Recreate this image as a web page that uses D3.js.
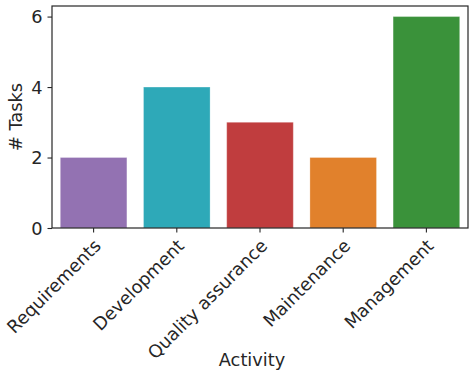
<!DOCTYPE html>
<html>
<head>
<meta charset="utf-8">
<script src="https://cdn.jsdelivr.net/npm/d3@7"></script>
<style>
  html, body { margin: 0; padding: 0; background: #fff; }
  svg { display: block; font-family: "DejaVu Sans", sans-serif; }
</style>
</head>
<body>
<svg id="chart" width="474" height="372"></svg>
<script>
// Chart data
const categories = ["Requirements", "Development", "Quality assurance", "Maintenance", "Management"];
const tasks = [2, 4, 3, 2, 6];
const barColors = ["#9372b2", "#2ea9b8", "#c03d3e", "#e1812c", "#3a923a"];
const yTicks = [0, 2, 4, 6];

const W = 474, H = 372;
const margin = { top: 6, right: 6, bottom: 144, left: 52 };
const fontSize = 17.8;
const ink = "#262626";

const svg = d3.select("#chart");

/** Band scale for categories (matplotlib-like: 0.8 bar width). */
const x = d3.scaleBand()
  .domain(categories)
  .range([margin.left, W - margin.right])
  .paddingInner(0.2)
  .paddingOuter(0.1);

/** Linear scale for task count (5% headroom like seaborn). */
const y = d3.scaleLinear()
  .domain([0, 6.3])
  .range([H - margin.bottom, margin.top]);

// bars
svg.append("g")
  .selectAll("rect")
  .data(categories)
  .join("rect")
  .attr("x", (d) => x(d))
  .attr("y", (d, i) => y(tasks[i]))
  .attr("width", x.bandwidth())
  .attr("height", (d, i) => y(0) - y(tasks[i]))
  .attr("fill", (d, i) => barColors[i])
  .attr("stroke", "#fff")
  .attr("stroke-opacity", 0.25)
  .attr("stroke-width", 1);

// y axis
const yAxis = svg.append("g")
  .attr("transform", `translate(${margin.left},0)`)
  .call(d3.axisLeft(y).tickValues(yTicks).tickSize(4.5).tickPadding(5).tickFormat(d3.format("d")));
yAxis.select(".domain").remove();
yAxis.selectAll("line").attr("stroke", ink).attr("stroke-width", 1.1);
yAxis.selectAll("text")
  .attr("font-size", fontSize)
  .attr("font-family", "DejaVu Sans")
  .attr("fill", ink)
  .attr("dy", "0.36em");

// x axis
const xAxis = svg.append("g")
  .attr("transform", `translate(0,${H - margin.bottom})`)
  .call(d3.axisBottom(x).tickSize(4.5).tickSizeOuter(0));
xAxis.select(".domain").remove();
xAxis.selectAll("line").attr("stroke", ink).attr("stroke-width", 1.1);
xAxis.selectAll("text")
  .attr("font-size", fontSize)
  .attr("font-family", "DejaVu Sans")
  .attr("fill", ink)
  .attr("text-anchor", "end")
  .attr("y", 0)
  .attr("dy", 0)
  .attr("transform", "translate(8.4,19) rotate(-45)");

// frame
svg.append("rect")
  .attr("x", margin.left)
  .attr("y", margin.top)
  .attr("width", W - margin.left - margin.right)
  .attr("height", H - margin.top - margin.bottom)
  .attr("fill", "none")
  .attr("stroke", ink)
  .attr("stroke-width", 1.2);

// axis labels
svg.append("text")
  .attr("transform", `translate(21.5,${(y(0) + y(6.3)) / 2}) rotate(-90)`)
  .attr("text-anchor", "middle")
  .attr("font-size", fontSize)
  .attr("fill", ink)
  .text("# Tasks");

svg.append("text")
  .attr("x", 252)
  .attr("y", 366)
  .attr("text-anchor", "middle")
  .attr("font-size", fontSize)
  .attr("fill", ink)
  .text("Activity");
</script>
</body>
</html>
